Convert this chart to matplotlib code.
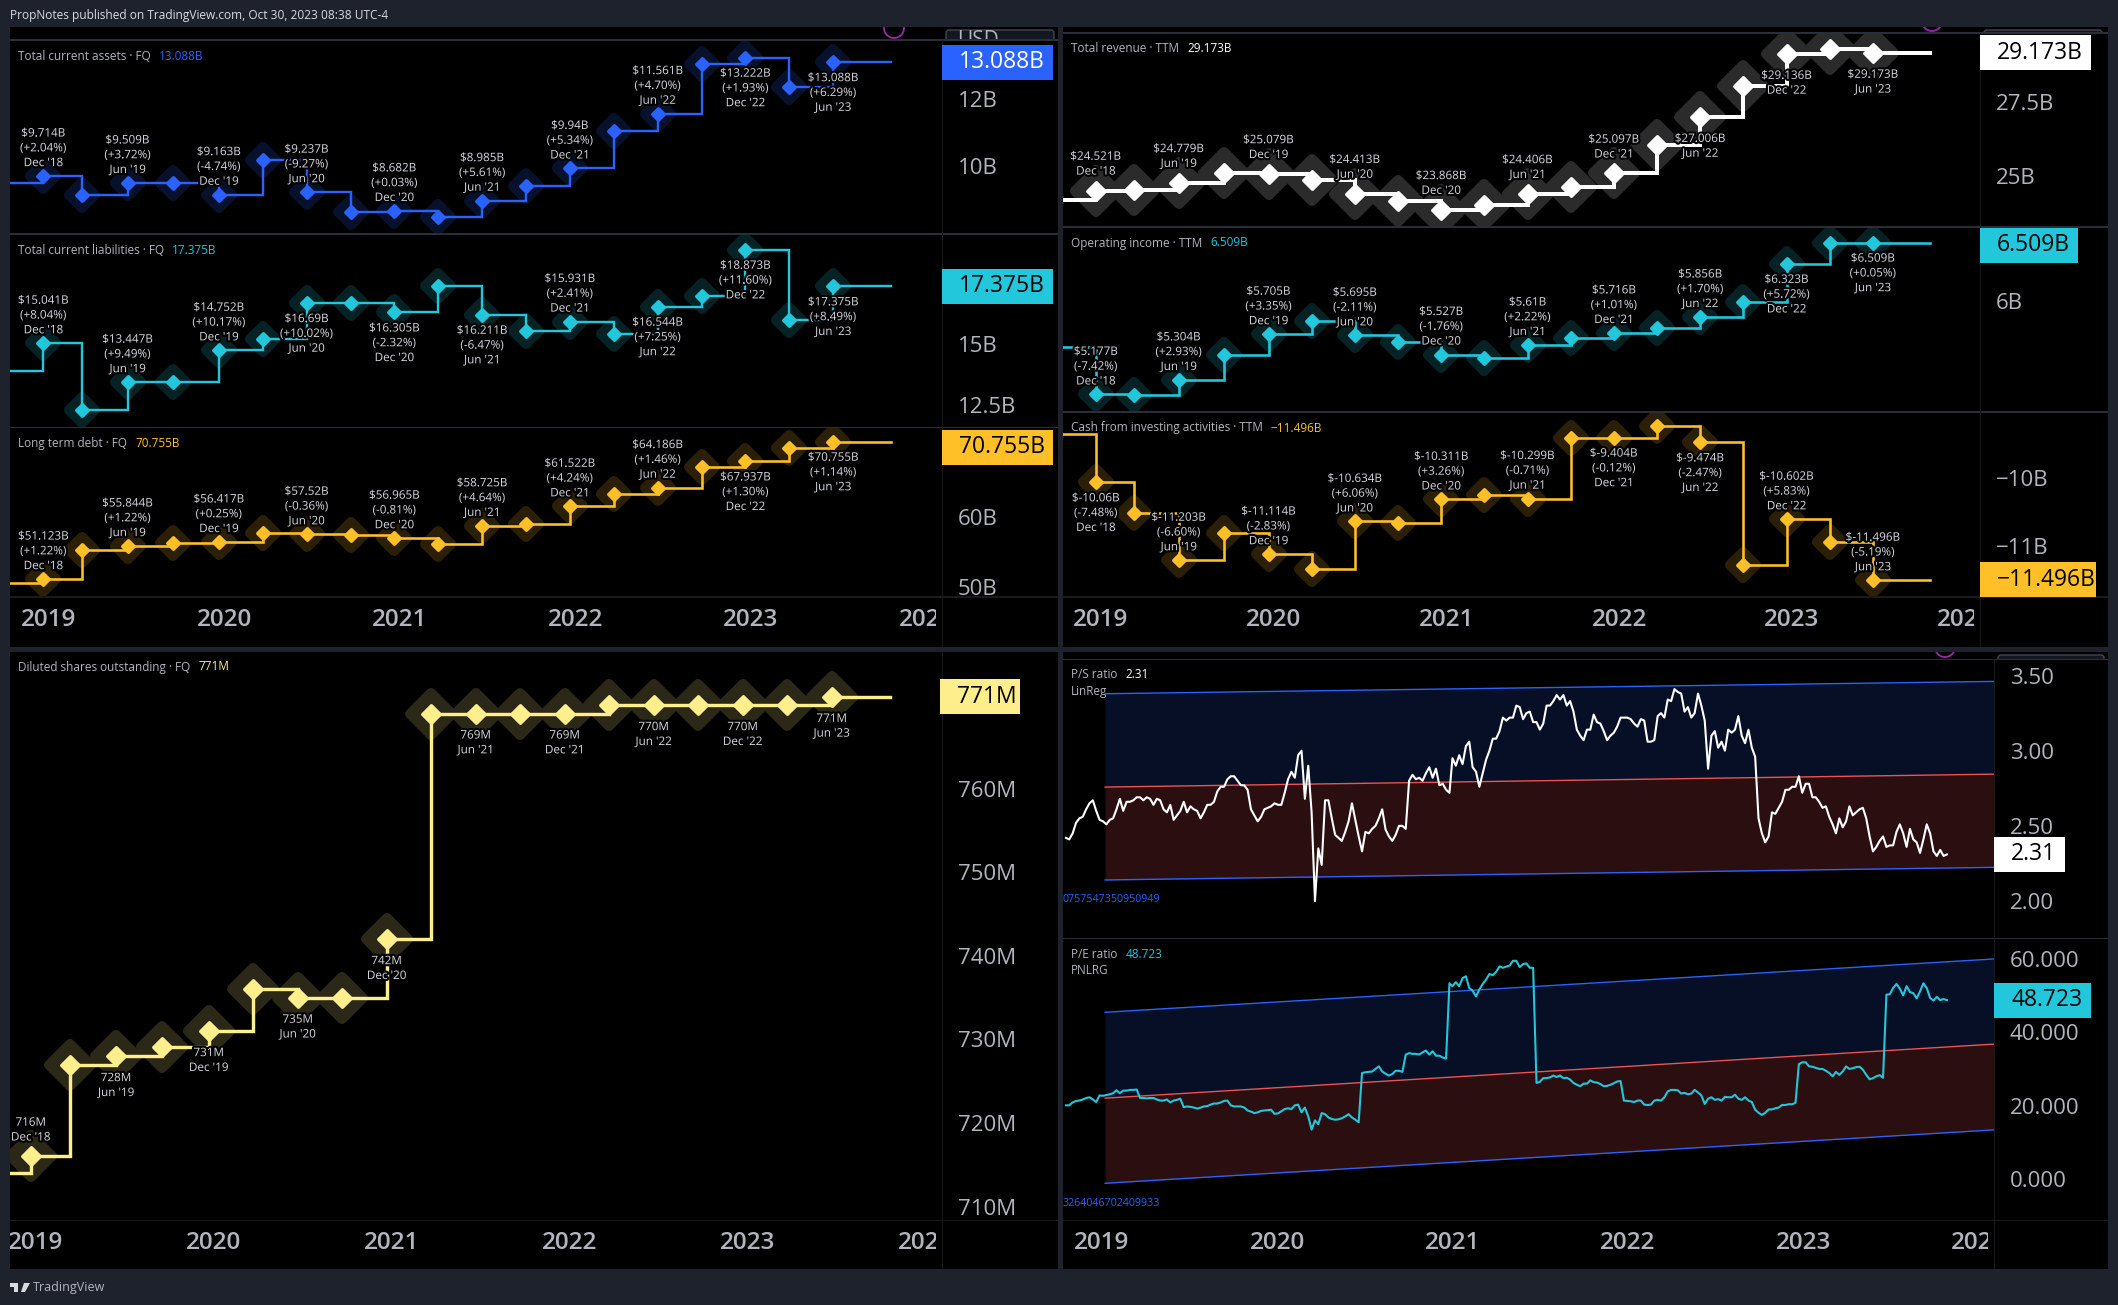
import matplotlib
matplotlib.use('Agg')
import matplotlib.pyplot as plt
import matplotlib.patheffects as pe
from matplotlib.markers import MarkerStyle
from matplotlib.patches import Rectangle, Circle, Polygon, FancyBboxPatch
import numpy as np
import pandas as pd

plt.rcParams['font.family'] = ['Open Sans', 'DejaVu Sans']

W, H = 2118, 1305

BG = '#1e222d'
SEP = '#2a2e39'
FAINT = '#1a1a1a'
TXT = '#b2b5be'
LABEL = '#d8dae2'
BLUE = '#2962ff'
CYAN = '#22c7dc'
AMBER = '#ffbf27'
WHITE = '#ffffff'
PALE = '#ffee8c'
PURPLE = '#9c27b0'

# first entry is the quarter before the first labelled one, off to the left
quarters = [2018.72, 2018.97, 2019.19, 2019.45, 2019.71, 2019.97, 2020.22, 2020.47, 2020.72, 2020.97,
            2021.22, 2021.47, 2021.72, 2021.97, 2022.22, 2022.47, 2022.72, 2022.97, 2023.22, 2023.47]
chart_end = 2023.80
years = [2019, 2020, 2021, 2022, 2023, 2024]
period_labels = ["Dec '18", "Jun '19", "Dec '19", "Jun '20", "Dec '20", "Jun '21", "Dec '21", "Jun '22", "Dec '22", "Jun '23"]

assets_vals = [9.52, 9.714, 9.14, 9.509, 9.50, 9.163, 10.2, 9.237, 8.66, 8.682,
               8.49, 8.985, 9.43, 9.94, 11.05, 11.561, 13.02, 13.222, 12.36, 13.088]
assets_pct = [2.04, 3.72, -4.74, -9.27, 0.03, 5.61, 5.34, 4.70, 1.93, 6.29]
assets_side = ['a', 'a', 'a', 'a', 'a', 'a', 'a', 'a', 'b', 'b']

liab_vals = [13.92, 15.041, 12.3, 13.447, 13.44, 14.752, 15.2, 16.69, 16.69, 16.305,
             17.38, 16.211, 15.55, 15.931, 15.43, 16.544, 16.98, 18.873, 16.0, 17.375]
liab_pct = [8.04, 9.49, 10.17, 10.02, -2.32, -6.47, 2.41, 7.25, 11.60, 8.49]
liab_side = ['a', 'a', 'a', 'b', 'b', 'b', 'a', 'b', 'b', 'b']

debt_vals = [50.6, 51.123, 55.3, 55.844, 56.3, 56.417, 57.7, 57.52, 57.47, 56.965,
             56.2, 58.725, 59.0, 61.522, 63.3, 64.186, 67.1, 67.937, 69.9, 70.755]
debt_pct = [1.22, 1.22, 0.25, -0.36, -0.81, 4.64, 4.24, 1.46, 1.30, 1.14]
debt_side = ['a', 'a', 'a', 'a', 'a', 'a', 'a', 'a', 'b', 'b']

revenue_vals = [24.19, 24.521, 24.55, 24.779, 25.11, 25.079, 24.86, 24.413, 24.18, 23.868,
                24.03, 24.406, 24.63, 25.097, 26.07, 27.006, 28.04, 29.136, 29.31, 29.173]
revenue_side = ['a', 'a', 'a', 'a', 'a', 'a', 'a', 'b', 'b', 'b']

opinc_vals = [5.592, 5.177, 5.17, 5.304, 5.526, 5.705, 5.825, 5.695, 5.635, 5.527,
              5.50, 5.61, 5.67, 5.716, 5.763, 5.856, 5.985, 6.323, 6.506, 6.509]
opinc_pct = [-7.42, 2.93, 3.35, -2.11, -1.76, 2.22, 1.01, 1.70, 5.72, 0.05]
opinc_side = ['a', 'a', 'a', 'a', 'a', 'a', 'a', 'a', 'b', 'b']

cash_vals = [-9.35, -10.06, -10.51, -11.203, -10.81, -11.114, -11.33, -10.634, -10.66, -10.311,
             -10.24, -10.299, -9.41, -9.404, -9.24, -9.474, -11.27, -10.602, -10.94, -11.496]
cash_pct = [-7.48, -6.60, -2.83, 6.06, 3.26, -0.71, -0.12, -2.47, 5.83, -5.19]
cash_side = ['b', 'a', 'a', 'a', 'a', 'a', 'b', 'b', 'a', 'a']

shares_vals = [714, 716, 727, 728, 729.1, 731, 736, 735, 735, 742,
               769, 769, 769, 769, 770, 770, 770, 770, 770, 771]
shares_side = ['a', 'b', 'b', 'b', 'b', 'b', 'b', 'b', 'b', 'b']

# weekly closes up to late Oct 2023
ps_vals = [2.42, 2.41, 2.45, 2.52, 2.55, 2.56, 2.61, 2.65, 2.67, 2.60, 2.54, 2.53, 2.51, 2.54, 2.55, 2.61,
           2.68, 2.60, 2.66, 2.66, 2.67, 2.69, 2.69, 2.67, 2.69, 2.68, 2.64, 2.68, 2.67, 2.61, 2.59, 2.64,
           2.54, 2.57, 2.60, 2.66, 2.59, 2.63, 2.61, 2.60, 2.55, 2.59, 2.64, 2.64, 2.66, 2.73, 2.76, 2.76,
           2.81, 2.83, 2.83, 2.80, 2.77, 2.77, 2.74, 2.61, 2.57, 2.53, 2.56, 2.61, 2.62, 2.63, 2.65, 2.64,
           2.64, 2.72, 2.81, 2.86, 2.82, 2.97, 3.00, 2.68, 2.90, 2.59, 2.00, 2.35, 2.24, 2.67, 2.67, 2.55,
           2.44, 2.42, 2.40, 2.46, 2.53, 2.65, 2.54, 2.43, 2.33, 2.46, 2.45, 2.48, 2.50, 2.55, 2.61, 2.475,
           2.43, 2.40, 2.44, 2.50, 2.50, 2.48, 2.80, 2.84, 2.81, 2.82, 2.80, 2.85, 2.89, 2.82, 2.88, 2.77,
           2.78, 2.74, 2.72, 2.95, 2.90, 2.97, 2.91, 3.03, 3.06, 2.89, 2.86, 2.76, 2.85, 2.94, 3.00, 3.08,
           3.08, 3.13, 3.22, 3.20, 3.22, 3.22, 3.30, 3.29, 3.21, 3.25, 3.26, 3.19, 3.19, 3.14, 3.18, 3.30,
           3.30, 3.33, 3.37, 3.34, 3.37, 3.30, 3.33, 3.26, 3.14, 3.10, 3.07, 3.14, 3.14, 3.24, 3.19, 3.18,
           3.13, 3.07, 3.10, 3.12, 3.16, 3.22, 3.22, 3.22, 3.21, 3.18, 3.16, 3.21, 3.20, 3.06, 3.06, 3.07,
           3.23, 3.25, 3.22, 3.34, 3.33, 3.41, 3.39, 3.38, 3.26, 3.29, 3.22, 3.25, 3.38, 3.30, 3.20, 2.88,
           3.10, 3.13, 3.02, 3.06, 3.00, 3.14, 3.12, 3.14, 3.23, 3.10, 3.05, 3.14, 3.02, 2.96, 2.55, 2.45,
           2.39, 2.43, 2.59, 2.58, 2.62, 2.66, 2.74, 2.74, 2.76, 2.76, 2.83, 2.72, 2.78, 2.78, 2.69, 2.69,
           2.66, 2.62, 2.63, 2.56, 2.51, 2.45, 2.55, 2.49, 2.53, 2.63, 2.57, 2.59, 2.61, 2.62, 2.55, 2.43,
           2.33, 2.36, 2.40, 2.43, 2.36, 2.37, 2.37, 2.46, 2.51, 2.45, 2.36, 2.48, 2.41, 2.39, 2.32, 2.41,
           2.51, 2.45, 2.33, 2.30, 2.34, 2.30, 2.31]
pe_vals = [20.1, 20.1, 20.9, 21.3, 21.4, 21.7, 22.1, 22.3, 21.7, 21.0, 22.8, 22.7, 22.9, 23.1, 23.4, 24.2,
           23.4, 24.1, 24.1, 24.3, 24.3, 24.4, 22.1, 22.1, 22.0, 22.1, 22.1, 21.7, 21.4, 21.4, 21.7, 20.9,
           21.4, 21.6, 21.9, 19.6, 19.8, 19.7, 19.5, 19.2, 19.5, 19.8, 19.9, 20.3, 20.6, 20.6, 20.9, 21.3,
           21.4, 20.1, 19.8, 19.8, 19.8, 19.5, 18.7, 18.4, 18.0, 18.2, 18.6, 18.7, 18.8, 18.9, 17.8, 17.9,
           18.5, 19.1, 19.3, 19.1, 20.1, 20.3, 18.2, 19.5, 17.1, 13.5, 16.0, 15.0, 18.0, 17.7, 16.8, 16.4,
           16.2, 16.3, 16.6, 17.1, 17.7, 16.8, 16.2, 15.5, 28.9, 29.1, 29.2, 29.3, 30.0, 30.7, 29.3, 28.7,
           28.2, 28.6, 29.5, 29.5, 29.2, 33.9, 34.3, 34.1, 34.1, 33.9, 34.5, 35.0, 33.9, 34.8, 33.6, 33.6,
           33.1, 32.8, 53.3, 52.5, 53.6, 52.5, 54.7, 55.2, 52.0, 51.3, 49.7, 51.6, 53.1, 54.3, 55.8, 55.5,
           56.4, 57.9, 57.5, 57.8, 58.1, 59.4, 59.4, 57.7, 58.5, 58.7, 57.5, 57.5, 26.2, 26.5, 27.5, 27.5,
           27.7, 28.2, 27.8, 28.2, 27.5, 27.6, 27.1, 26.2, 25.7, 25.3, 26.0, 26.0, 26.9, 26.4, 26.3, 25.9,
           25.3, 25.4, 25.7, 26.1, 26.6, 26.7, 21.4, 21.3, 21.2, 21.0, 21.4, 21.4, 20.3, 20.2, 20.3, 21.4,
           21.6, 21.4, 22.3, 23.9, 24.3, 24.3, 24.2, 23.3, 23.5, 23.1, 23.3, 24.3, 23.6, 22.8, 20.5, 21.9,
           22.3, 21.6, 21.8, 21.4, 22.4, 22.3, 22.3, 23.0, 21.9, 21.6, 22.3, 21.4, 21.0, 18.9, 18.1, 17.5,
           18.1, 19.0, 19.0, 19.3, 19.5, 20.2, 20.2, 20.4, 20.4, 20.8, 31.3, 31.8, 31.8, 30.7, 30.6, 30.3,
           30.0, 30.0, 29.5, 28.9, 28.0, 29.2, 28.4, 29.3, 30.7, 30.0, 30.2, 30.5, 30.6, 29.8, 28.4, 27.2,
           27.5, 28.0, 28.3, 27.6, 50.2, 50.3, 52.0, 53.1, 51.8, 50.0, 52.5, 50.9, 50.6, 49.2, 51.1, 53.3,
           52.0, 49.3, 48.6, 49.6, 48.7, 49.0, 48.72]

reg_years = [2019.02, 2024.087]
ps_upper = [3.379, 3.461]
ps_mid = [2.758, 2.844]
ps_lower = [2.140, 2.224]
pe_upper = [45.4, 59.9]
pe_mid = [22.05, 36.75]
pe_lower = [-1.09, 13.43]

fig = plt.figure(figsize=(W / 100, H / 100), dpi=100, facecolor=BG)
renderer = fig.canvas.get_renderer()


def px_axes(x0, y0, x1, y1):
    # axes placed by pixel box, y counted from the top like the screenshot
    ax = fig.add_axes([x0 / W, 1 - y1 / H, (x1 - x0) / W, (y1 - y0) / H])
    ax.set_facecolor('black')
    for s in ax.spines.values():
        s.set_visible(False)
    return ax


def px_rect(x0, y0, x1, y1, color, z=-1):
    fig.add_artist(Rectangle((x0 / W, 1 - y1 / H), (x1 - x0) / W, (y1 - y0) / H,
                             transform=fig.transFigure, fc=color, ec='none', zorder=z))


def px_text(x, y, s, **kw):
    kw.setdefault('va', 'center')
    kw.setdefault('zorder', 5)
    return fig.text(x / W, 1 - y / H, s, **kw)


def title(x, y, name, value, color, size=8.5):
    t = px_text(x, y, name, color=TXT, fontsize=size)
    end = t.get_window_extent(renderer).x1
    px_text(end + 8, y, value, color=color, fontsize=size)


def price_axis(ax, ticks, tick_labels, size=16):
    ax.yaxis.tick_right()
    ax.set_yticks(ticks)
    ax.set_yticklabels(tick_labels)
    ax.tick_params(axis='y', length=0, pad=11.5, labelsize=size, labelcolor=TXT)
    ax.set_xticks([])


def badge(ax, value, text, x0, width, color, text_color, center=None):
    # price tag on the axis, center overrides when the tag is pushed off the level
    if center is None:
        center = H - ax.transData.transform((0, value))[1]
    px_rect(x0, center - 17.5, x0 + width, center + 17.5, color, z=3)
    px_text(x0 + 17, center, text, color=text_color, fontsize=16.5)


def time_axis(x0, y0, x1, y1, xlim):
    ax = px_axes(x0, y0, x1, y1)
    ax.set_xlim(xlim)
    ax.set_ylim(0, 1)
    ax.set_xticks([])
    ax.set_yticks([])
    for yr in years:
        ax.text(yr, 0.54, str(yr), color=TXT, fontsize=17.5, fontweight='semibold',
                ha='center', va='center', clip_on=True)
    # the last year is cut a little before the price axis
    px_rect(x1 - 6, y0 + 1, x1, y1, 'black', z=2)


def steps(ax, vals, color, lw, inner, halo, side, labels, gap):
    x = quarters + [chart_end]
    y = vals + [vals[-1]]
    ax.plot(x, y, color=color, lw=lw * 0.72, drawstyle='steps-post', zorder=3,
            solid_joinstyle='miter')
    rgb = np.array(matplotlib.colors.to_rgb(color)) * 0.17
    round_d = MarkerStyle('D', joinstyle='round')
    round_d2 = MarkerStyle('D', joinstyle='round')
    ax.plot(quarters[1:], vals[1:], ls='', marker=round_d, ms=(halo - 10) * 0.72 / 1.414,
            mfc=rgb, mec=rgb, mew=10 * 0.72, zorder=2)
    ax.plot(quarters[1:], vals[1:], ls='', marker=round_d2, ms=(inner - 3) * 0.72 / 1.414,
            mfc=color, mec=color, mew=3 * 0.72, zorder=4)
    # labelled points are every second quarter starting at Dec '18
    lx = quarters[1::2]
    ly = vals[1::2]
    for i in range(len(lx)):
        up = side[i] == 'a'
        ax.annotate(labels[i], xy=(lx[i], ly[i]), xytext=(0, gap if up else -(gap + 2)),
                    textcoords='offset pixels', ha='center', va='bottom' if up else 'top',
                    color=LABEL, fontsize=8.4, linespacing=1.18, annotation_clip=False, zorder=6,
                    path_effects=[pe.withStroke(linewidth=3, foreground='black')])


def money_labels(vals, pct=None):
    out = []
    ly = vals[1::2]
    for i in range(len(ly)):
        s = '$%gB' % ly[i]
        if pct is not None:
            s += '\n(%+.2f%%)' % pct[i]
        out.append(s + '\n' + period_labels[i])
    return out


def share_labels(vals):
    ly = vals[1::2]
    return ['%gM\n%s' % (ly[i], period_labels[i]) for i in range(len(ly))]


def week_axis(vals):
    # weekly bars, as fractional years
    d = pd.date_range(end='2023-10-27', periods=len(vals), freq='W-FRI')
    return d.year + (d.dayofyear - 1) / 365.25


def channel(ax, upper, mid, lower):
    ax.fill_between(reg_years, mid, upper, color='#060f26', lw=0, zorder=1)
    ax.fill_between(reg_years, lower, mid, color='#2b0e0f', lw=0, zorder=1)
    ax.plot(reg_years, upper, color=BLUE, lw=1.0, zorder=2)
    ax.plot(reg_years, lower, color=BLUE, lw=1.0, zorder=2)
    ax.plot(reg_years, mid, color='#ef5350', lw=1.0, zorder=2)


def strip(x0, y0, x1, y1, icon_x, icon_y, box_x0, box_x1, box_y, usd=False):
    # bit of the hidden pane above the first one: currency box and purple flag
    ax = px_axes(x0, y0, x1, y1)
    ax.set_xlim(x0, x1)
    ax.set_ylim(y1, y0)
    ax.axis('off')
    ax.add_patch(Rectangle((x0, y0), x1 - x0, y1 - y0, fc='black', ec='none'))
    ax.add_patch(Circle((icon_x, icon_y), 10, fc='none', ec=PURPLE, lw=1.3))
    ax.add_patch(FancyBboxPatch((box_x0, box_y), box_x1 - box_x0, 40, boxstyle='round,pad=0,rounding_size=3',
                                fc='#131722', ec='#434651', lw=1))
    if usd:
        ax.text(box_x0 + 11, box_y + 11, 'USD', color=TXT, fontsize=15, va='center', clip_on=True)


# column backgrounds
px_rect(10, 27, 1058, 647, 'black')
px_rect(1063, 27, 2108, 647, 'black')
px_rect(10, 652, 1058, 1269, 'black')
px_rect(1063, 652, 2108, 1269, 'black')

# header and footer
px_text(10, 15, 'PropNotes published on TradingView.com, Oct 30, 2023 08:38 UTC-4', color=LABEL, fontsize=8.6)
px_text(33, 1288, 'TradingView', color=TXT, fontsize=9)
fig.add_artist(Polygon([(10 / W, 1 - 1283 / H), (18 / W, 1 - 1283 / H), (18 / W, 1 - 1292 / H), (14 / W, 1 - 1292 / H),
                        (14 / W, 1 - 1287 / H), (10 / W, 1 - 1287 / H)], transform=fig.transFigure, fc=LABEL, ec='none'))
fig.add_artist(Polygon([(24 / W, 1 - 1283 / H), (30 / W, 1 - 1283 / H), (25 / W, 1 - 1292 / H), (21 / W, 1 - 1292 / H)],
                       transform=fig.transFigure, fc=LABEL, ec='none'))

strip(10, 27, 1058, 40, 894, 28, 946, 1054, 30, usd=True)
strip(1063, 27, 2108, 33, 1932, 21, 1984, 2102, 30)
strip(1063, 652, 2108, 659, 1945, 647, 1998, 2104, 655)

XLIM = (2018.78, 2024.09)

# left column
ax = px_axes(10, 40, 942, 234)
ax.set_xlim(XLIM)
ax.set_ylim(8.0, 13.744)
steps(ax, assets_vals, BLUE, 2.4, 15, 36, assets_side, money_labels(assets_vals, assets_pct), 7)
price_axis(ax, [10, 12], ['10B', '12B'])
badge(ax, 13.088, '13.088B', 942, 111, BLUE, WHITE)
title(18, 56, 'Total current assets · FQ', '13.088B', BLUE)

ax = px_axes(10, 234, 942, 428)
ax.set_xlim(XLIM)
ax.set_ylim(11.57, 19.52)
steps(ax, liab_vals, CYAN, 2.4, 15, 36, liab_side, money_labels(liab_vals, liab_pct), 7)
price_axis(ax, [12.5, 15], ['12.5B', '15B'])
badge(ax, 17.375, '17.375B', 942, 111, CYAN, 'black')
title(18, 250, 'Total current liabilities · FQ', '17.375B', CYAN)

ax = px_axes(10, 428, 942, 597)
ax.set_xlim(XLIM)
ax.set_ylim(48.57, 72.71)
steps(ax, debt_vals, AMBER, 2.6, 15, 36, debt_side, money_labels(debt_vals, debt_pct), 7)
price_axis(ax, [50, 60], ['50B', '60B'])
badge(ax, 70.755, '70.755B', 942, 111, AMBER, 'black', center=447)
title(18, 444, 'Long term debt · FQ', '70.755B', AMBER)
time_axis(10, 597, 942, 647, XLIM)

ax = px_axes(10, 653, 942, 1220)
ax.set_xlim(2018.854, 2024.09)
ax.set_ylim(708.4, 776.24)
steps(ax, shares_vals, PALE, 3.4, 20, 52, shares_side, share_labels(shares_vals), 13)
price_axis(ax, [710, 720, 730, 740, 750, 760], ['710M', '720M', '730M', '740M', '750M', '760M'])
badge(ax, 771, '771M', 940, 80, PALE, 'black')
title(18, 667, 'Diluted shares outstanding · FQ', '771M', PALE)
time_axis(10, 1220, 942, 1269, (2018.854, 2024.09))

# right column
ax = px_axes(1063, 33, 1980, 227)
ax.set_xlim(XLIM)
ax.set_ylim(23.29, 29.84)
steps(ax, revenue_vals, WHITE, 4, 20, 52, revenue_side, money_labels(revenue_vals), 13)
price_axis(ax, [25, 27.5], ['25B', '27.5B'])
badge(ax, 29.173, '29.173B', 1980, 111, WHITE, 'black')
title(1071, 49, 'Total revenue · TTM', '29.173B', WHITE)

ax = px_axes(1063, 227, 1980, 412)
ax.set_xlim(XLIM)
ax.set_ylim(5.023, 6.646)
steps(ax, opinc_vals, CYAN, 2.6, 15, 36, opinc_side, money_labels(opinc_vals, opinc_pct), 7)
price_axis(ax, [6], ['6B'])
badge(ax, 6.509, '6.509B', 1980, 98, CYAN, 'black', center=245)
title(1071, 243, 'Operating income · TTM', '6.509B', CYAN)

ax = px_axes(1063, 412, 1980, 597)
ax.set_xlim(XLIM)
ax.set_ylim(-11.741, -9.029)
steps(ax, cash_vals, AMBER, 2.6, 15, 36, cash_side, money_labels(cash_vals, cash_pct), 7)
price_axis(ax, [-11, -10], ['\u221211B', '\u221210B'])
badge(ax, -11.496, '\u221211.496B', 1980, 116, AMBER, 'black', center=579.7)
title(1071, 428, 'Cash from investing activities · TTM', '\u221211.496B', AMBER)
time_axis(1063, 597, 1980, 647, XLIM)

ax = px_axes(1063, 659, 1994, 938)
ax.set_xlim(2018.78, 2024.087)
ax.set_ylim(1.754, 3.61)
channel(ax, ps_upper, ps_mid, ps_lower)
ax.plot(week_axis(ps_vals), ps_vals, color=WHITE, lw=1.5, zorder=3)
price_axis(ax, [2, 2.5, 3, 3.5], ['2.00', '2.50', '3.00', '3.50'])
badge(ax, 2.31, '2.31', 1994, 71, WHITE, 'black')
title(1071, 675, 'P/S ratio', '2.31', WHITE)
px_text(1071, 692, 'LinReg', color=TXT, fontsize=8.5)
px_text(1160, 900, '0757547350950949', color=BLUE, fontsize=7.65, ha='right')

ax = px_axes(1063, 938, 1994, 1220)
ax.set_xlim(2018.78, 2024.087)
ax.set_ylim(-11.07, 65.6)
channel(ax, pe_upper, pe_mid, pe_lower)
ax.plot(week_axis(pe_vals), pe_vals, color=CYAN, lw=1.5, zorder=3)
price_axis(ax, [0, 20, 40, 60], ['0.000', '20.000', '40.000', '60.000'])
badge(ax, 48.723, '48.723', 1994, 97, CYAN, 'black')
title(1071, 954, 'P/E ratio', '48.723', CYAN)
px_text(1071, 971, 'PNLRG', color=TXT, fontsize=8.5)
px_text(1160, 1203, '3264046702409933', color=BLUE, fontsize=7.65, ha='right')
time_axis(1063, 1220, 1994, 1269, (2018.78, 2024.087))

# pane separators and price axis borders
for y, x0, x1 in [(40, 10, 1058), (234, 10, 1058), (428, 10, 1058), (33, 1063, 2108), (227, 1063, 2108),
                  (412, 1063, 2108), (659, 1063, 2108), (938, 1063, 2108)]:
    px_rect(x0, y - 0.5, x1, y + 0.5, SEP, z=2)
for x, y0, y1 in [(942, 40, 647), (942, 653, 1269), (1980, 33, 647), (1994, 659, 1269)]:
    px_rect(x - 0.5, y0, x + 0.5, y1, FAINT, z=2)
for y, x0, x1 in [(597, 10, 1058), (1220, 10, 1058), (597, 1063, 2108), (1220, 1063, 2108)]:
    px_rect(x0, y - 0.5, x1, y + 0.5, FAINT, z=2)

fig.savefig('out.png', dpi=100, facecolor=fig.get_facecolor())
